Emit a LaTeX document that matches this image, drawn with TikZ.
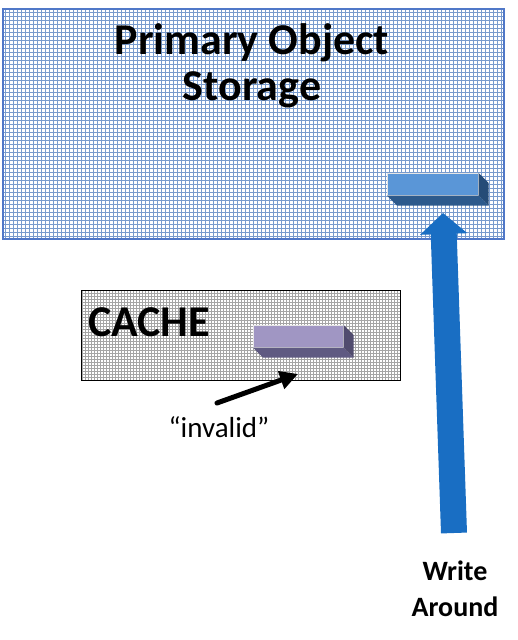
\documentclass[tikz,border=0pt]{standalone}
\usepackage{fontspec}
\setmainfont{Carlito}
\usepackage{xcolor}
\usepackage{tikz}
\usetikzlibrary{positioning,arrows.meta}

\definecolor{storeblue}{RGB}{80,120,200}
\definecolor{gridblue}{RGB}{120,155,205}
\definecolor{gridgrey}{RGB}{165,165,165}
\definecolor{arrowblue}{RGB}{25,110,195}
\definecolor{slabblue}{RGB}{90,150,215}
\definecolor{slabblueside}{RGB}{45,90,140}
\definecolor{slabpurple}{RGB}{160,150,195}
\definecolor{slabpurpleside}{RGB}{95,90,130}

\tikzset{
  storebox/.style={draw=storeblue, line width=2pt, fill=white, inner sep=0pt, anchor=north west,
    path picture={\draw[gridblue, line width=0.8pt, step=4pt] (path picture bounding box.south west) grid (path picture bounding box.north east);}},
  cachebox/.style={draw=black, line width=1.3pt, fill=white, inner sep=0pt, anchor=north west,
    path picture={\draw[gridgrey, line width=0.5pt, step=3pt] (path picture bounding box.south west) grid (path picture bounding box.north east);}},
  slabface/.style={draw=white!80!gray, line width=0.6pt, inner sep=0pt, anchor=north west},
  biglabel/.style={font=\bfseries\fontsize{44}{46}\selectfont, inner sep=0pt},
  smalllabel/.style={font=\bfseries\fontsize{28}{36}\selectfont, inner sep=0pt, align=center},
  bigarrow/.style={draw=arrowblue, line width=26pt, -{Triangle[width=46pt, length=21pt]}},
  pointer/.style={line width=5pt, line cap=round, -{Triangle[width=18pt, length=18pt]}}
}

\begin{document}
\begin{tikzpicture}[x=1pt, y=-1pt]
  \useasboundingbox (0,0) rectangle (517,640);

  % Boxes
  \node[storebox, minimum width=501pt, minimum height=230pt] (storage) at (2,8) {};
  \node[cachebox, minimum width=319pt, minimum height=90pt] (cache) at (81,290) {};

  % Labels
  \node[biglabel, align=center] (storagelabel) at (252,66) {Primary Object\\Storage};
  \node[biglabel, anchor=base west] (cachelabel) at (88,336) {CACHE};
  \node[font=\fontsize{29}{30}\selectfont, inner sep=0pt, anchor=base] (invalidlabel) at (219,437) {“invalid”};
  \node[smalllabel] (writelabel) at (455,589) {Write\\Around};

  % Objects
  \node[slabface, fill=slabblue, minimum width=91pt, minimum height=22pt] (blueslab) at (387,173) {};
  \fill[slabblueside] (blueslab.south west) -- (blueslab.south east) -- ++(10,10) -- ([shift={(10,10)}]blueslab.south west) -- cycle;
  \fill[slabblueside!85!black] (blueslab.north east) -- ++(10,10) -- ([shift={(10,10)}]blueslab.south east) -- (blueslab.south east) -- cycle;

  \node[slabface, fill=slabpurple, minimum width=90pt, minimum height=22pt] (purpleslab) at (253,325) {};
  \fill[slabpurpleside] (purpleslab.south west) -- (purpleslab.south east) -- ++(10,10) -- ([shift={(10,10)}]purpleslab.south west) -- cycle;
  \fill[slabpurpleside!85!black] (purpleslab.north east) -- ++(10,10) -- ([shift={(10,10)}]purpleslab.south east) -- (purpleslab.south east) -- cycle;

  % Arrows
  \coordinate (writetail) at (454,533);
  \coordinate (writetip) at (443,213);
  \draw[bigarrow] (writetail) -- (writetip);

  \coordinate (invalidtail) at (217,403);
  \coordinate (invalidtip) at (298,374);
  \draw[pointer] (invalidtail) -- (invalidtip);

\end{tikzpicture}
\end{document}
